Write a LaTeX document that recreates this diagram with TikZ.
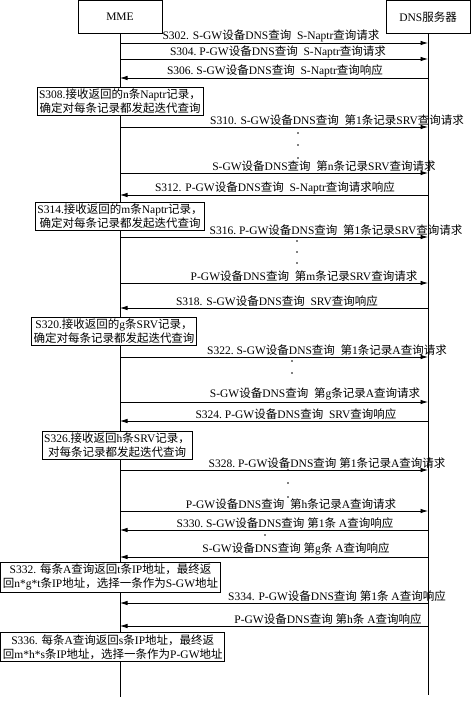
\documentclass[tikz,border=0pt]{standalone}
\usepackage{fontspec}
\setmainfont{Liberation Serif}
\newfontfamily\cjkfont{Noto Sans CJK SC}
\usetikzlibrary{arrows.meta}
\newcommand{\zh}[1]{{\cjkfont #1}}
\newcommand{\sgwq}{S-GW\zh{设备}DNS\zh{查询}}
\newcommand{\pgwq}{P-GW\zh{设备}DNS\zh{查询}}
\tikzset{
  entity/.style={draw, fill=white, minimum width=84pt, minimum height=33pt, font=\fontsize{11.5}{13}\selectfont},
  msg/.style={-{Latex[length=7.5pt,width=4.5pt]}},
  lbl/.style={anchor=south, inner sep=1.2pt, font=\fontsize{11.5}{13}\selectfont},
  note/.style={draw, fill=white, align=center, inner sep=2pt, font=\fontsize{11.5}{13.5}\selectfont},
}
\begin{document}
\begin{tikzpicture}[x=1pt, y=-1pt, line width=0.7pt]
\useasboundingbox (0,0) rectangle (474,701);
% lifelines
\node[entity] (mme) at (120,17) {MME};
\node[entity] (dns) at (428,17) {DNS\zh{服务器}};
\coordinate (mmeend) at (120,697);
\coordinate (dnsend) at (428,695);
\draw (mme) -- (mmeend);
\draw (dns) -- (dnsend);

% naptr
\draw[msg] (mme |- 0,43) -- (dns |- 0,43);
\node[lbl] (s302) at (271,43) {S302. \sgwq\enspace S-Naptr\zh{查询请求}};
\draw[msg] (mme |- 0,59) -- (dns |- 0,59);
\node[lbl] (s304) at (278,59) {S304.\ \pgwq\enspace S-Naptr\zh{查询请求}};
\draw[msg] (dns |- 0,78) -- (mme |- 0,78);
\node[lbl] (s306) at (275,78) {S306.\ \sgwq\enspace S-Naptr\zh{查询响应}};
\node[note] (s308) at (120,101) {S308.\zh{接收返回的}n\zh{条}Naptr\zh{记录，}\\\zh{确定对每条记录都发起迭代查询}};

% srv, s-gw
\draw[msg] (mme |- 0,127) -- (dns |- 0,127);
\node[lbl] (s310) at (337,127) {S310. \sgwq\enspace\zh{第}1\zh{条记录}SRV\zh{查询请求}};
\foreach \y in {133,145,158} \fill (298,\y) circle (0.9);
\draw[msg] (mme |- 0,173) -- (dns |- 0,173);
\node[lbl] (s310n) at (324,173) {\sgwq\enspace\zh{第}n\zh{条记录}SRV\zh{查询请求}};
\draw[msg] (dns |- 0,195) -- (mme |- 0,195);
\node[lbl] (s312) at (275,195) {S312. \pgwq\enspace S-Naptr\zh{查询请求响应}};
\node[note] (s314) at (120,216) {S314.\zh{接收返回的}m\zh{条}Naptr\zh{记录，}\\\zh{确定对每条记录都发起迭代查询}};

% srv, p-gw
\draw[msg] (mme |- 0,237) -- (dns |- 0,237);
\node[lbl] (s316) at (336,237) {S316.\ \pgwq\enspace\zh{第}1\zh{条记录}SRV\zh{查询请求}};
\foreach \y in {241,252,263} \fill (297,\y) circle (0.9);
\draw[msg] (mme |- 0,283) -- (dns |- 0,283);
\node[lbl] (s316m) at (304,283) {\pgwq\enspace\zh{第}m\zh{条记录}SRV\zh{查询请求}};
\draw[msg] (dns |- 0,308) -- (mme |- 0,308);
\node[lbl] (s318) at (277,308) {S318. \sgwq\enspace SRV\zh{查询响应}};
\node[note] (s320) at (114,331) {S320.\zh{接收返回的}g\zh{条}SRV\zh{记录，}\\\zh{确定对每条记录都发起迭代查询}};

% a, s-gw
\draw[msg] (mme |- 0,357) -- (dns |- 0,357);
\node[lbl] (s322) at (327,357) {S322.\ \sgwq\enspace\zh{第}1\zh{条记录}A\zh{查询请求}};
\foreach \y in {361,373} \fill (292,\y) circle (0.9);
\draw[msg] (mme |- 0,402) -- (dns |- 0,402);
\node[lbl] (s322g) at (315,402) {\sgwq\enspace\zh{第}g\zh{条记录}A\zh{查询请求}};
\draw[msg] (dns |- 0,421) -- (mme |- 0,421);
\node[lbl] (s324) at (296,421) {S324.\ \pgwq\enspace SRV\zh{查询响应}};
\node[note] (s326) at (117,445) {S326.\zh{接收返回}h\zh{条}SRV\zh{记录，}\\\zh{对每条记录都发起迭代查询}};

% a, p-gw
\draw[msg] (mme |- 0,470) -- (dns |- 0,470);
\node[lbl] (s328) at (327,470) {S328.\ \pgwq\ \zh{第}1\zh{条记录}A\zh{查询请求}};
\foreach \y in {470,483,497} \fill (288,\y) circle (0.9);
\draw[msg] (mme |- 0,511) -- (dns |- 0,511);
\node[lbl] (s328h) at (291,511) {\pgwq\enspace\zh{第}h\zh{条记录}A\zh{查询请求}};
\draw[msg] (dns |- 0,530) -- (mme |- 0,530);
\node[lbl] (s330) at (285,530) {S330.\ \sgwq\ \zh{第}1\zh{条}\ A\zh{查询响应}};
\foreach \y in {535,545} \fill (265,\y) circle (0.9);
\draw[msg] (dns |- 0,557) -- (mme |- 0,557);
\node[lbl] (s330g) at (296,557) {\sgwq\ \zh{第}g\zh{条}\ A\zh{查询响应}};
\node[note, anchor=west] (s332) at (0.5,577) {S332. \zh{每条}A\zh{查询返回}t\zh{条}IP\zh{地址，最终返}\\\zh{回}n*g*t\zh{条}IP\zh{地址，选择一条作为}S-GW\zh{地址}};

\draw[msg] (dns |- 0,603) -- (mme |- 0,603);
\node[lbl] (s334) at (337,603) {S334. \pgwq\ \zh{第}1\zh{条}\ A\zh{查询响应}};
\draw[msg] (dns |- 0,626) -- (mme |- 0,626);
\node[lbl] (s334h) at (328,626) {\pgwq\ \zh{第}h\zh{条}\ A\zh{查询响应}};
\node[note, anchor=west] (s336) at (0.5,647) {S336. \zh{每条}A\zh{查询返回}s\zh{条}IP\zh{地址，最终返}\\\zh{回}m*h*s\zh{条}IP\zh{地址，选择一条作为}P-GW\zh{地址}};
\end{tikzpicture}
\end{document}
